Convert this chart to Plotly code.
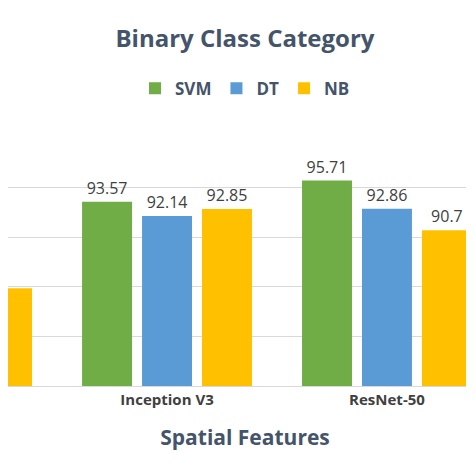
import plotly.graph_objects as go

categories = ["ResNet-101", "Inception V3", "ResNet-50"]
svm = [87.5, 93.57, 95.71]
dt = [86.4, 92.14, 92.86]
nb = [84.85, 92.85, 90.7]
series = [("SVM", svm, "#70ad47"), ("DT", dt, "#5b9bd5"), ("NB", nb, "#ffc000")]

fig = go.Figure()
for name, vals, col in series:
    fig.add_trace(go.Bar(
        x=list(range(len(categories))), y=vals, name=f"<b>{name}</b>",
        marker=dict(color=col, line=dict(width=0)),
        text=[f"{v:g}" for v in vals], textposition="outside", cliponaxis=False,
        textfont=dict(size=16, color="#404040", family="Open Sans"),
    ))

fig.update_layout(
    width=474, height=474,
    margin=dict(l=0, r=0, t=130, b=96, autoexpand=False),
    paper_bgcolor="white", plot_bgcolor="white",
    barmode="group", bargap=0.182, bargroupgap=0.167,
    title=dict(text="<b>Binary Class Category</b>", x=0.5, xanchor="center",
               yref="container", y=0.935, yanchor="middle",
               font=dict(size=24, color="#44546a", family="Open Sans")),
    legend=dict(orientation="h", x=0.5, xanchor="center", yref="container", y=0.83, yanchor="middle",
                font=dict(size=17, color="#44546a", family="Open Sans"), itemwidth=30),
    font=dict(family="Open Sans"),
    showlegend=True,
)
fig.update_xaxes(
    tickmode="array", tickvals=list(range(len(categories))),
    ticktext=[f"<b>{c}</b>" for c in categories],
    range=[0.277, 2.432], showgrid=False, showline=True, linecolor="#d9d9d9",
    tickfont=dict(size=15, color="#404040"), ticks="", automargin=False,
    title=dict(text="<b>Spatial Features</b>", font=dict(size=21, color="#44546a"), standoff=22),
)
fig.update_yaxes(range=[75, 100], dtick=5, showgrid=True, gridcolor="#d9d9d9",
                 showticklabels=False, zeroline=False, automargin=False)
fig.write_html("out.html")
